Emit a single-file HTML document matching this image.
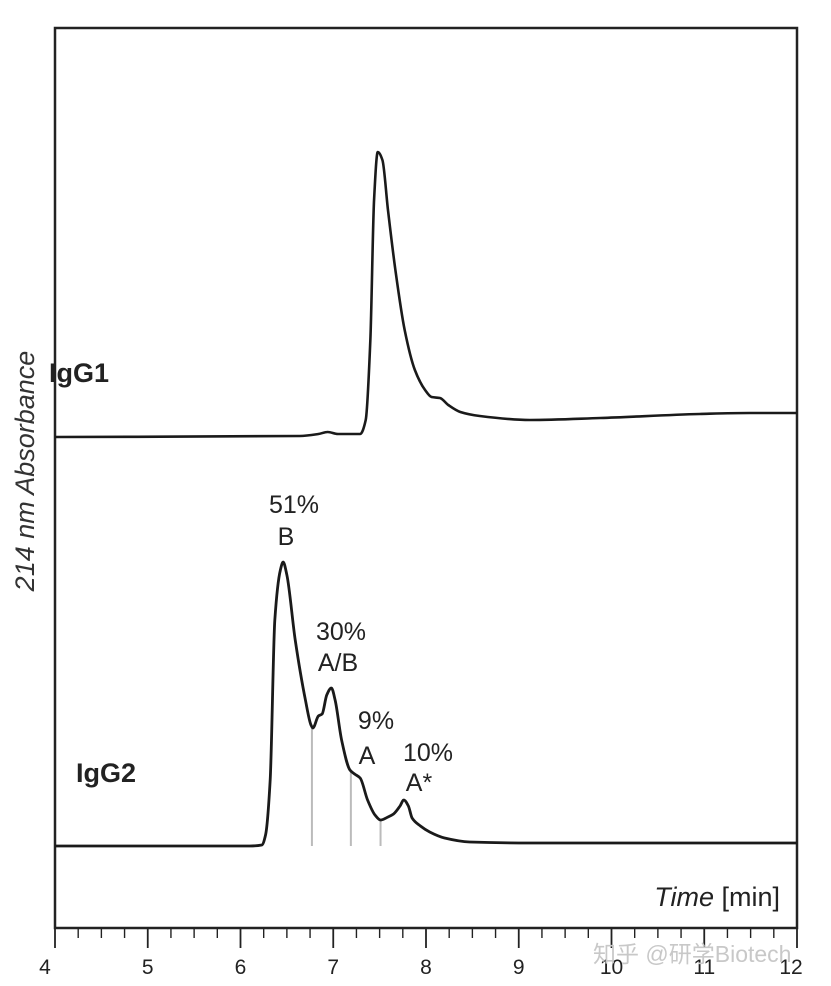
<!DOCTYPE html>
<html><head><meta charset="utf-8"><style>
html,body{margin:0;padding:0;background:#fff;}
svg{display:block;font-family:"Liberation Sans","Noto Sans CJK SC",sans-serif;}
</style></head><body>
<svg id="chart" width="831" height="986" viewBox="0 0 831 986">
<rect x="55" y="28" width="742" height="900" fill="none" stroke="#222" stroke-width="2.5"/>
<g id="axis"></g>
<g id="series"></g>
<text x="0" y="0" transform="translate(34,471) rotate(-90)" text-anchor="middle" font-size="27" font-style="italic" fill="#333">214 nm Absorbance</text>
<text x="780" y="906" text-anchor="end" font-size="27" fill="#222"><tspan font-style="italic">Time</tspan> [min]</text>
<text x="49" y="382" font-size="27" font-weight="bold" fill="#222">IgG1</text>
<text x="76" y="782" font-size="27" font-weight="bold" fill="#222">IgG2</text>
<g font-size="25" fill="#222" text-anchor="middle">
<text x="294" y="513">51%</text>
<text x="286" y="545">B</text>
<text x="341" y="640">30%</text>
<text x="338" y="671">A/B</text>
<text x="376" y="729">9%</text>
<text x="367" y="764">A</text>
<text x="428" y="761">10%</text>
<text x="419" y="791">A*</text>
</g>
<text x="593" y="962" font-size="23" fill="#c8c8c8">知乎 @研学Biotech</text>
</svg>
<script>
const tickLabels = ["4","5","6","7","8","9","10","11","12"];
const igg2Times = [4.00,6.10,6.23,6.27,6.32,6.37,6.43,6.46,6.50,6.59,6.70,6.76,6.78,6.84,6.88,6.93,6.98,7.02,7.09,7.18,7.23,7.29,7.37,7.45,7.51,7.59,7.65,7.72,7.76,7.81,7.85,7.94,8.04,8.20,8.47,9.12,12.00];
const igg2Values = [0,0,1,11,66,226,276,284,271,206,146,121,118,130,132,151,158,146,106,76,72,68,46,31,26,29,32,40,46,40,28,20,14,8,4,3,3];
const igg1Times = [4.00,6.64,6.84,6.94,7.05,7.29,7.35,7.40,7.44,7.48,7.53,7.59,7.67,7.77,7.88,7.99,8.06,8.15,8.24,8.37,8.58,9.12,9.88,10.95,11.49,12.00];
const igg1Values = [0,1,3,5,3,3,17,97,237,285,277,227,167,107,67,47,40,39,32,25,21,17,19,23,24,24];
const dropTimes = [6.77,7.19,7.51];
const NS = "http://www.w3.org/2000/svg";
const xS = t => 55 + (t - 4) * 92.75;
const y1 = v => 437 - v;
const y2 = v => 846 - v;
function interp(ts, vs, t){for(let i=1;i<ts.length;i++){if(t<=ts[i]){const f=(t-ts[i-1])/(ts[i]-ts[i-1]);return vs[i-1]+f*(vs[i]-vs[i-1]);}}return vs[vs.length-1];}
const axis = document.getElementById('axis');
for(let k=0;k<=32;k++){
  const t=4+k*0.25, major=k%4===0;
  const l=document.createElementNS(NS,'line');
  l.setAttribute('x1',xS(t));l.setAttribute('x2',xS(t));
  l.setAttribute('y1',928);l.setAttribute('y2',major?948:938);
  l.setAttribute('stroke','#222');l.setAttribute('stroke-width',major?1.8:1.4);
  
  
  axis.appendChild(l);
}
tickLabels.forEach(s=>{
  const tx=document.createElementNS(NS,'text');
  tx.setAttribute('x',xS(+s)-(s==="4"?10:(s==="12"?6:0)));tx.setAttribute('y',974);
  tx.setAttribute('text-anchor','middle');tx.setAttribute('font-size','21');tx.setAttribute('fill','#222');
  tx.textContent=s;
  
  
  axis.appendChild(tx);
});
const g=document.getElementById('series');
dropTimes.forEach(t=>{
  const l=document.createElementNS(NS,'line');
  l.setAttribute('x1',xS(t));l.setAttribute('x2',xS(t));
  l.setAttribute('y1',y2(0));l.setAttribute('y2',y2(interp(igg2Times,igg2Values,t)));
  l.setAttribute('stroke','#bbb');l.setAttribute('stroke-width',2);
  
  
  g.appendChild(l);
});
function path(ts,vs,ys){
  const x=ts.map(xS), y=vs.map(ys), n=x.length;
  const d=[], m=new Array(n);
  for(let i=0;i<n-1;i++) d.push((y[i+1]-y[i])/(x[i+1]-x[i]));
  m[0]=d[0]; m[n-1]=d[n-2];
  for(let i=1;i<n-1;i++){
    if(d[i-1]*d[i]<=0) m[i]=0;
    else { const h0=x[i]-x[i-1], h1=x[i+1]-x[i], w1=2*h1+h0, w2=h1+2*h0; m[i]=(w1+w2)/(w1/d[i-1]+w2/d[i]); }
  }
  let s='M'+x[0]+','+y[0];
  for(let i=0;i<n-1;i++){
    const h=(x[i+1]-x[i])/3;
    s+=' C'+(x[i]+h)+','+(y[i]+m[i]*h)+' '+(x[i+1]-h)+','+(y[i+1]-m[i+1]*h)+' '+x[i+1]+','+y[i+1];
  }
  return s;
}
const a=document.createElementNS(NS,'path');
a.setAttribute('d',path(igg1Times,igg1Values,y1));
a.setAttribute('fill','none');a.setAttribute('stroke','#1a1a1a');a.setAttribute('stroke-width',2.6);a.setAttribute('stroke-linejoin','round');


g.appendChild(a);
const b=document.createElementNS(NS,'path');
b.setAttribute('d',path(igg2Times,igg2Values,y2));
b.setAttribute('fill','none');b.setAttribute('stroke','#1a1a1a');b.setAttribute('stroke-width',2.8);b.setAttribute('stroke-linejoin','round');


g.appendChild(b);
</script>
</body></html>
